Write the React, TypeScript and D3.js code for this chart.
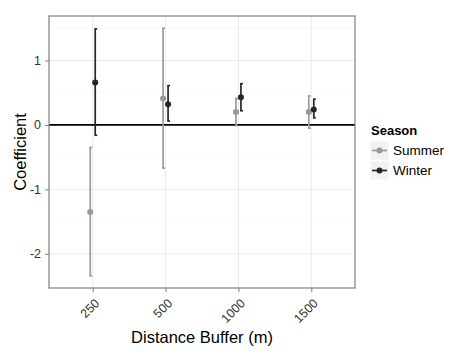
import React, { useEffect, useRef } from "react";
import * as d3 from "d3";

const buffers = ["250", "500", "1000", "1500"];
const seasons = ["Summer", "Winter"];
const seasonColors = ["#9a9a9a", "#262626"];

const summerCoef = [-1.35, 0.41, 0.2, 0.2];
const summerLow = [-2.34, -0.67, -0.01, -0.05];
const summerHigh = [-0.35, 1.5, 0.41, 0.45];

const winterCoef = [0.66, 0.32, 0.43, 0.24];
const winterLow = [-0.16, 0.06, 0.22, 0.11];
const winterHigh = [1.49, 0.61, 0.64, 0.4];

const yTicks = [-2, -1, 0, 1];

const W = 474;
const H = 355;
const margin = { top: 16, right: 119, bottom: 67, left: 49 };

const App = () => {
  const svgRef = useRef(null);

  useEffect(() => {
    const svg = d3.select(svgRef.current);
    svg.selectAll("*").remove();

    const pw = W - margin.left - margin.right;
    const ph = H - margin.top - margin.bottom;
    const font = "'Liberation Sans', Arial, sans-serif";

    const x = d3
      .scalePoint()
      .domain(buffers)
      .range([0, pw])
      .padding(0.6);
    const y = d3.scaleLinear().domain([-2.53, 1.69]).range([ph, 0]);
    const dodge = d3.scaleBand().domain(seasons).range([-5, 5]);

    const g = svg
      .append("g")
      .attr("transform", `translate(${margin.left},${margin.top})`);

    // grid
    const minor = [-1.5, -0.5, 0.5, 1.5];
    g.selectAll(".minor")
      .data(minor)
      .enter()
      .append("line")
      .attr("x1", 0)
      .attr("x2", pw)
      .attr("y1", (d) => y(d))
      .attr("y2", (d) => y(d))
      .attr("stroke", "#f5f5f5")
      .attr("stroke-width", 0.6);
    g.selectAll(".hgrid")
      .data(yTicks)
      .enter()
      .append("line")
      .attr("x1", 0)
      .attr("x2", pw)
      .attr("y1", (d) => y(d))
      .attr("y2", (d) => y(d))
      .attr("stroke", "#ebebeb")
      .attr("stroke-width", 1);
    g.selectAll(".vgrid")
      .data(buffers)
      .enter()
      .append("line")
      .attr("x1", (d) => x(d))
      .attr("x2", (d) => x(d))
      .attr("y1", 0)
      .attr("y2", ph)
      .attr("stroke", "#ebebeb")
      .attr("stroke-width", 1);

    // zero line
    g.append("line")
      .attr("x1", 0)
      .attr("x2", pw)
      .attr("y1", y(0))
      .attr("y2", y(0))
      .attr("stroke", "#000")
      .attr("stroke-width", 1.8);

    const series = [
      { name: "Summer", coef: summerCoef, low: summerLow, high: summerHigh },
      { name: "Winter", coef: winterCoef, low: winterLow, high: winterHigh },
    ];

    series.forEach((s, si) => {
      const color = seasonColors[si];
      const rows = buffers.map((b, i) => ({
        cx: x(b) + dodge(s.name) + dodge.bandwidth() / 2,
        coef: s.coef[i],
        low: s.low[i],
        high: s.high[i],
      }));
      const sg = g.append("g");
      sg.selectAll(".bar")
        .data(rows)
        .enter()
        .append("line")
        .attr("x1", (d) => d.cx)
        .attr("x2", (d) => d.cx)
        .attr("y1", (d) => y(d.low))
        .attr("y2", (d) => y(d.high))
        .attr("stroke", color)
        .attr("stroke-width", 1.7);
      ["low", "high"].forEach((k) => {
        sg.selectAll(".cap-" + k)
          .data(rows)
          .enter()
          .append("line")
          .attr("x1", (d) => d.cx - 0.8)
          .attr("x2", (d) => d.cx + 2)
          .attr("y1", (d) => y(d[k]))
          .attr("y2", (d) => y(d[k]))
          .attr("stroke", color)
          .attr("stroke-width", 1.7);
      });
      sg.selectAll(".pt")
        .data(rows)
        .enter()
        .append("circle")
        .attr("cx", (d) => d.cx)
        .attr("cy", (d) => y(d.coef))
        .attr("r", 3)
        .attr("fill", color);
    });

    // panel border
    g.append("rect")
      .attr("width", pw)
      .attr("height", ph)
      .attr("fill", "none")
      .attr("stroke", "#7f7f7f")
      .attr("stroke-width", 1.2);

    // axes
    const yAxis = g
      .append("g")
      .call(
        d3
          .axisLeft(y)
          .tickValues(yTicks)
          .tickSize(4)
          .tickPadding(4)
          .tickFormat((d) => String(d))
      );
    yAxis.select(".domain").remove();
    yAxis.selectAll("line").attr("stroke", "#7f7f7f");
    yAxis
      .selectAll("text")
      .attr("font-family", font)
      .attr("font-size", 12.5)
      .attr("fill", "#333");

    const xAxis = g
      .append("g")
      .attr("transform", `translate(0,${ph})`)
      .call(d3.axisBottom(x).tickSize(4).tickPadding(3));
    xAxis.select(".domain").remove();
    xAxis.selectAll("line").attr("stroke", "#7f7f7f");
    xAxis
      .selectAll("text")
      .attr("font-family", font)
      .attr("font-size", 12.5)
      .attr("fill", "#333")
      .attr("text-anchor", "end")
      .attr("x", 0)
      .attr("y", 0)
      .attr("dy", 0)
      .attr("transform", "translate(7,16) rotate(-45)");

    // titles
    svg
      .append("text")
      .attr("x", margin.left + pw / 2)
      .attr("y", 343)
      .attr("text-anchor", "middle")
      .attr("font-family", font)
      .attr("font-size", 16.5)
      .attr("fill", "#000")
      .text("Distance Buffer (m)");
    svg
      .append("text")
      .attr("transform", `translate(26,${margin.top + ph / 2}) rotate(-90)`)
      .attr("text-anchor", "middle")
      .attr("font-family", font)
      .attr("font-size", 16.5)
      .attr("fill", "#000")
      .text("Coefficient");

    // legend
    const lg = svg.append("g").attr("transform", "translate(370,121)");
    lg.append("text")
      .attr("x", 1)
      .attr("y", 14)
      .attr("font-family", font)
      .attr("font-size", 13)
      .attr("font-weight", "bold")
      .text("Season");
    seasons.forEach((s, i) => {
      const ky = 20 + i * 20;
      lg.append("rect")
        .attr("x", 0)
        .attr("y", ky)
        .attr("width", 19)
        .attr("height", 19)
        .attr("fill", "#f2f2f2")
        .attr("stroke", "#fff");
      lg.append("line")
        .attr("x1", 2)
        .attr("x2", 17)
        .attr("y1", ky + 9.5)
        .attr("y2", ky + 9.5)
        .attr("stroke", seasonColors[i])
        .attr("stroke-width", 1.7);
      lg.append("circle")
        .attr("cx", 9.5)
        .attr("cy", ky + 9.5)
        .attr("r", 3)
        .attr("fill", seasonColors[i]);
      lg.append("text")
        .attr("x", 23)
        .attr("y", ky + 14)
        .attr("font-family", font)
        .attr("font-size", 13.5)
        .text(s);
    });
  }, []);

  return <svg ref={svgRef} width={W} height={H} style={{ display: "block", margin: -8 }}></svg>;
};

export default App;
